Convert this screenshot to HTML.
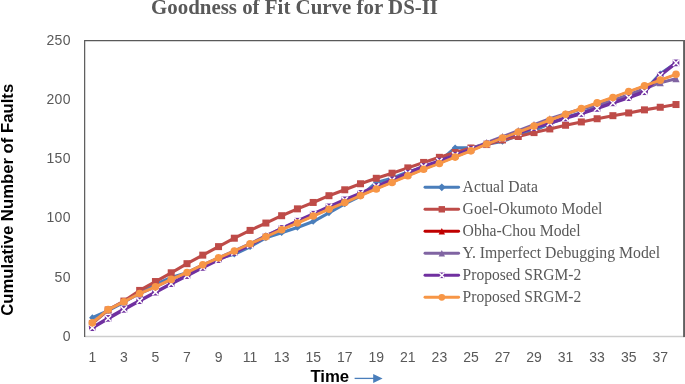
<!DOCTYPE html>
<html><head><meta charset="utf-8"><title>Goodness of Fit Curve for DS-II</title>
<style>
html,body{margin:0;padding:0;background:#fff}
body{width:685px;height:384px;overflow:hidden}
svg{display:block}
.tk{font-family:"Liberation Sans",sans-serif;font-size:14px;fill:#595959}
.at{font-family:"Liberation Sans",sans-serif;font-weight:bold;fill:#000}
.lg{font-family:"Liberation Serif",serif;font-size:15.7px;fill:#595959}
</style></head><body>
<svg width="685" height="384" viewBox="0 0 685 384">
<rect width="685" height="384" fill="#fff"/>
<text x="151.0" y="14.1" font-family="'Liberation Serif',serif" font-weight="bold" font-size="20.75" fill="#595959" textLength="287" lengthAdjust="spacingAndGlyphs">Goodness of Fit Curve for DS-II</text>
<path d="M84.65 336.6H683.8" stroke="#cdcdcd" stroke-width="1.5" fill="none"/>
<path d="M84.65 337.1V40.6H683.8" stroke="#595959" stroke-width="1.2" fill="none"/>
<rect x="683.1" y="40.0" width="2" height="297.1" fill="#606060"/>
<text x="70.9" y="340.70" letter-spacing="0.35" text-anchor="end" class="tk">0</text>
<text x="70.9" y="281.50" letter-spacing="0.35" text-anchor="end" class="tk">50</text>
<text x="70.9" y="222.30" letter-spacing="0.35" text-anchor="end" class="tk">100</text>
<text x="70.9" y="163.10" letter-spacing="0.35" text-anchor="end" class="tk">150</text>
<text x="70.9" y="103.90" letter-spacing="0.35" text-anchor="end" class="tk">200</text>
<text x="70.9" y="44.70" letter-spacing="0.35" text-anchor="end" class="tk">250</text>
<text x="92.35" y="361.7" text-anchor="middle" class="tk">1</text>
<text x="123.90" y="361.7" text-anchor="middle" class="tk">3</text>
<text x="155.45" y="361.7" text-anchor="middle" class="tk">5</text>
<text x="187.00" y="361.7" text-anchor="middle" class="tk">7</text>
<text x="218.54" y="361.7" text-anchor="middle" class="tk">9</text>
<text x="250.09" y="361.7" text-anchor="middle" class="tk">11</text>
<text x="281.64" y="361.7" text-anchor="middle" class="tk">13</text>
<text x="313.19" y="361.7" text-anchor="middle" class="tk">15</text>
<text x="344.74" y="361.7" text-anchor="middle" class="tk">17</text>
<text x="376.29" y="361.7" text-anchor="middle" class="tk">19</text>
<text x="407.84" y="361.7" text-anchor="middle" class="tk">21</text>
<text x="439.39" y="361.7" text-anchor="middle" class="tk">23</text>
<text x="470.93" y="361.7" text-anchor="middle" class="tk">25</text>
<text x="502.48" y="361.7" text-anchor="middle" class="tk">27</text>
<text x="534.03" y="361.7" text-anchor="middle" class="tk">29</text>
<text x="565.58" y="361.7" text-anchor="middle" class="tk">31</text>
<text x="597.13" y="361.7" text-anchor="middle" class="tk">33</text>
<text x="628.68" y="361.7" text-anchor="middle" class="tk">35</text>
<text x="660.23" y="361.7" text-anchor="middle" class="tk">37</text>
<text transform="translate(12.9 315.8) rotate(-90)" class="at" font-size="15.6" textLength="232" lengthAdjust="spacingAndGlyphs">Cumulative Number of Faults</text>
<text x="310.4" y="382.0" class="at" font-size="16" textLength="38.8" lengthAdjust="spacingAndGlyphs">Time</text>
<path d="M354.6 378.4H375" stroke="#4a7ebb" stroke-width="1.3" fill="none"/><path d="M373.2 373.9L382.6 378.4L373.2 382.9Z" fill="#4a7ebb"/>
<polyline points="92.35,317.66 108.12,310.55 123.90,302.26 139.67,292.79 155.45,284.50 171.22,277.40 187.00,272.66 202.77,265.56 218.54,258.46 234.32,254.31 250.09,246.73 265.87,237.85 281.64,232.76 297.42,227.44 313.19,221.52 328.96,212.87 344.74,203.99 360.51,196.06 376.29,182.44 392.06,178.30 407.84,172.02 423.61,167.29 439.39,161.37 455.16,147.75 470.93,147.75 486.71,144.20 502.48,141.48 518.26,135.32 534.03,130.58 549.81,123.48 565.58,117.56 581.35,112.82 597.13,107.38 612.90,101.69 628.68,96.48 644.45,90.56 660.23,73.75 676.00,63.10" fill="none" stroke="#4a7ebb" stroke-width="3.1" stroke-linejoin="round" stroke-linecap="round"/>
<path d="M92.35 314.36L95.65 317.66L92.35 320.96L89.05 317.66Z" fill="#4a7ebb"/>
<path d="M108.12 307.25L111.42 310.55L108.12 313.85L104.82 310.55Z" fill="#4a7ebb"/>
<path d="M123.90 298.96L127.20 302.26L123.90 305.56L120.60 302.26Z" fill="#4a7ebb"/>
<path d="M139.67 289.49L142.97 292.79L139.67 296.09L136.37 292.79Z" fill="#4a7ebb"/>
<path d="M155.45 281.20L158.75 284.50L155.45 287.80L152.15 284.50Z" fill="#4a7ebb"/>
<path d="M171.22 274.10L174.52 277.40L171.22 280.70L167.92 277.40Z" fill="#4a7ebb"/>
<path d="M187.00 269.36L190.30 272.66L187.00 275.96L183.70 272.66Z" fill="#4a7ebb"/>
<path d="M202.77 262.26L206.07 265.56L202.77 268.86L199.47 265.56Z" fill="#4a7ebb"/>
<path d="M218.54 255.16L221.84 258.46L218.54 261.76L215.24 258.46Z" fill="#4a7ebb"/>
<path d="M234.32 251.01L237.62 254.31L234.32 257.61L231.02 254.31Z" fill="#4a7ebb"/>
<path d="M250.09 243.43L253.39 246.73L250.09 250.03L246.79 246.73Z" fill="#4a7ebb"/>
<path d="M265.87 234.55L269.17 237.85L265.87 241.15L262.57 237.85Z" fill="#4a7ebb"/>
<path d="M281.64 229.46L284.94 232.76L281.64 236.06L278.34 232.76Z" fill="#4a7ebb"/>
<path d="M297.42 224.14L300.72 227.44L297.42 230.74L294.12 227.44Z" fill="#4a7ebb"/>
<path d="M313.19 218.22L316.49 221.52L313.19 224.82L309.89 221.52Z" fill="#4a7ebb"/>
<path d="M328.96 209.57L332.26 212.87L328.96 216.17L325.66 212.87Z" fill="#4a7ebb"/>
<path d="M344.74 200.69L348.04 203.99L344.74 207.29L341.44 203.99Z" fill="#4a7ebb"/>
<path d="M360.51 192.76L363.81 196.06L360.51 199.36L357.21 196.06Z" fill="#4a7ebb"/>
<path d="M376.29 179.14L379.59 182.44L376.29 185.74L372.99 182.44Z" fill="#4a7ebb"/>
<path d="M392.06 175.00L395.36 178.30L392.06 181.60L388.76 178.30Z" fill="#4a7ebb"/>
<path d="M407.84 168.72L411.14 172.02L407.84 175.32L404.54 172.02Z" fill="#4a7ebb"/>
<path d="M423.61 163.99L426.91 167.29L423.61 170.59L420.31 167.29Z" fill="#4a7ebb"/>
<path d="M439.39 158.07L442.69 161.37L439.39 164.67L436.09 161.37Z" fill="#4a7ebb"/>
<path d="M455.16 144.45L458.46 147.75L455.16 151.05L451.86 147.75Z" fill="#4a7ebb"/>
<path d="M470.93 144.45L474.23 147.75L470.93 151.05L467.63 147.75Z" fill="#4a7ebb"/>
<path d="M486.71 140.90L490.01 144.20L486.71 147.50L483.41 144.20Z" fill="#4a7ebb"/>
<path d="M502.48 138.18L505.78 141.48L502.48 144.78L499.18 141.48Z" fill="#4a7ebb"/>
<path d="M518.26 132.02L521.56 135.32L518.26 138.62L514.96 135.32Z" fill="#4a7ebb"/>
<path d="M534.03 127.28L537.33 130.58L534.03 133.88L530.73 130.58Z" fill="#4a7ebb"/>
<path d="M549.81 120.18L553.11 123.48L549.81 126.78L546.51 123.48Z" fill="#4a7ebb"/>
<path d="M565.58 114.26L568.88 117.56L565.58 120.86L562.28 117.56Z" fill="#4a7ebb"/>
<path d="M581.35 109.52L584.65 112.82L581.35 116.12L578.05 112.82Z" fill="#4a7ebb"/>
<path d="M597.13 104.08L600.43 107.38L597.13 110.68L593.83 107.38Z" fill="#4a7ebb"/>
<path d="M612.90 98.39L616.20 101.69L612.90 104.99L609.60 101.69Z" fill="#4a7ebb"/>
<path d="M628.68 93.18L631.98 96.48L628.68 99.78L625.38 96.48Z" fill="#4a7ebb"/>
<path d="M644.45 87.26L647.75 90.56L644.45 93.86L641.15 90.56Z" fill="#4a7ebb"/>
<path d="M660.23 70.45L663.53 73.75L660.23 77.05L656.93 73.75Z" fill="#4a7ebb"/>
<path d="M676.00 59.80L679.30 63.10L676.00 66.40L672.70 63.10Z" fill="#4a7ebb"/>
<polyline points="92.35,323.58 108.12,309.96 123.90,301.08 139.67,290.42 155.45,281.54 171.22,272.78 187.00,263.67 202.77,255.14 218.54,246.62 234.32,238.21 250.09,230.40 265.87,223.05 281.64,215.71 297.42,208.85 313.19,202.45 328.96,195.70 344.74,189.78 360.51,183.75 376.29,178.30 392.06,173.21 407.84,167.88 423.61,162.43 439.39,157.34 455.16,152.49 470.93,147.99 486.71,144.56 502.48,139.94 518.26,136.50 534.03,132.60 549.81,128.93 565.58,125.26 581.35,121.94 597.13,118.74 612.90,115.67 628.68,112.94 644.45,109.86 660.23,107.26 676.00,104.54" fill="none" stroke="#be4b48" stroke-width="3.1" stroke-linejoin="round" stroke-linecap="round"/>
<rect x="88.85" y="320.08" width="7.0" height="7.0" fill="#be4b48"/>
<rect x="104.62" y="306.46" width="7.0" height="7.0" fill="#be4b48"/>
<rect x="120.40" y="297.58" width="7.0" height="7.0" fill="#be4b48"/>
<rect x="136.17" y="286.92" width="7.0" height="7.0" fill="#be4b48"/>
<rect x="151.95" y="278.04" width="7.0" height="7.0" fill="#be4b48"/>
<rect x="167.72" y="269.28" width="7.0" height="7.0" fill="#be4b48"/>
<rect x="183.50" y="260.17" width="7.0" height="7.0" fill="#be4b48"/>
<rect x="199.27" y="251.64" width="7.0" height="7.0" fill="#be4b48"/>
<rect x="215.04" y="243.12" width="7.0" height="7.0" fill="#be4b48"/>
<rect x="230.82" y="234.71" width="7.0" height="7.0" fill="#be4b48"/>
<rect x="246.59" y="226.90" width="7.0" height="7.0" fill="#be4b48"/>
<rect x="262.37" y="219.55" width="7.0" height="7.0" fill="#be4b48"/>
<rect x="278.14" y="212.21" width="7.0" height="7.0" fill="#be4b48"/>
<rect x="293.92" y="205.35" width="7.0" height="7.0" fill="#be4b48"/>
<rect x="309.69" y="198.95" width="7.0" height="7.0" fill="#be4b48"/>
<rect x="325.46" y="192.20" width="7.0" height="7.0" fill="#be4b48"/>
<rect x="341.24" y="186.28" width="7.0" height="7.0" fill="#be4b48"/>
<rect x="357.01" y="180.25" width="7.0" height="7.0" fill="#be4b48"/>
<rect x="372.79" y="174.80" width="7.0" height="7.0" fill="#be4b48"/>
<rect x="388.56" y="169.71" width="7.0" height="7.0" fill="#be4b48"/>
<rect x="404.34" y="164.38" width="7.0" height="7.0" fill="#be4b48"/>
<rect x="420.11" y="158.93" width="7.0" height="7.0" fill="#be4b48"/>
<rect x="435.89" y="153.84" width="7.0" height="7.0" fill="#be4b48"/>
<rect x="451.66" y="148.99" width="7.0" height="7.0" fill="#be4b48"/>
<rect x="467.43" y="144.49" width="7.0" height="7.0" fill="#be4b48"/>
<rect x="483.21" y="141.06" width="7.0" height="7.0" fill="#be4b48"/>
<rect x="498.98" y="136.44" width="7.0" height="7.0" fill="#be4b48"/>
<rect x="514.76" y="133.00" width="7.0" height="7.0" fill="#be4b48"/>
<rect x="530.53" y="129.10" width="7.0" height="7.0" fill="#be4b48"/>
<rect x="546.31" y="125.43" width="7.0" height="7.0" fill="#be4b48"/>
<rect x="562.08" y="121.76" width="7.0" height="7.0" fill="#be4b48"/>
<rect x="577.85" y="118.44" width="7.0" height="7.0" fill="#be4b48"/>
<rect x="593.63" y="115.24" width="7.0" height="7.0" fill="#be4b48"/>
<rect x="609.40" y="112.17" width="7.0" height="7.0" fill="#be4b48"/>
<rect x="625.18" y="109.44" width="7.0" height="7.0" fill="#be4b48"/>
<rect x="640.95" y="106.36" width="7.0" height="7.0" fill="#be4b48"/>
<rect x="656.73" y="103.76" width="7.0" height="7.0" fill="#be4b48"/>
<rect x="672.50" y="101.04" width="7.0" height="7.0" fill="#be4b48"/>
<polyline points="92.35,322.87 108.12,309.60 123.90,301.79 139.67,293.50 155.45,286.87 171.22,279.41 187.00,272.55 202.77,264.85 218.54,257.86 234.32,251.00 250.09,243.77 265.87,236.79 281.64,229.68 297.42,223.05 313.19,216.07 328.96,209.20 344.74,202.57 360.51,195.59 376.29,188.96 392.06,182.44 407.84,175.81 423.61,169.30 439.39,163.50 455.16,157.11 470.93,150.83 486.71,144.08 502.48,138.04 518.26,132.12 534.03,126.08 549.81,120.16 565.58,114.36 581.35,108.44 597.13,102.88 612.90,97.43 628.68,91.51 644.45,85.83 660.23,80.15 676.00,74.34" fill="none" stroke="#c00000" stroke-width="1.8" stroke-linejoin="round" stroke-linecap="round"/>
<path d="M92.35 320.27L94.95 325.47L89.75 325.47Z" fill="#c00000"/>
<path d="M108.12 307.00L110.72 312.20L105.52 312.20Z" fill="#c00000"/>
<path d="M123.90 299.19L126.50 304.39L121.30 304.39Z" fill="#c00000"/>
<path d="M139.67 290.90L142.27 296.10L137.07 296.10Z" fill="#c00000"/>
<path d="M155.45 284.27L158.05 289.47L152.85 289.47Z" fill="#c00000"/>
<path d="M171.22 276.81L173.82 282.01L168.62 282.01Z" fill="#c00000"/>
<path d="M187.00 269.95L189.60 275.15L184.40 275.15Z" fill="#c00000"/>
<path d="M202.77 262.25L205.37 267.45L200.17 267.45Z" fill="#c00000"/>
<path d="M218.54 255.26L221.14 260.46L215.94 260.46Z" fill="#c00000"/>
<path d="M234.32 248.40L236.92 253.60L231.72 253.60Z" fill="#c00000"/>
<path d="M250.09 241.17L252.69 246.37L247.49 246.37Z" fill="#c00000"/>
<path d="M265.87 234.19L268.47 239.39L263.27 239.39Z" fill="#c00000"/>
<path d="M281.64 227.08L284.24 232.28L279.04 232.28Z" fill="#c00000"/>
<path d="M297.42 220.45L300.02 225.65L294.82 225.65Z" fill="#c00000"/>
<path d="M313.19 213.47L315.79 218.67L310.59 218.67Z" fill="#c00000"/>
<path d="M328.96 206.60L331.56 211.80L326.36 211.80Z" fill="#c00000"/>
<path d="M344.74 199.97L347.34 205.17L342.14 205.17Z" fill="#c00000"/>
<path d="M360.51 192.99L363.11 198.19L357.91 198.19Z" fill="#c00000"/>
<path d="M376.29 186.36L378.89 191.56L373.69 191.56Z" fill="#c00000"/>
<path d="M392.06 179.84L394.66 185.04L389.46 185.04Z" fill="#c00000"/>
<path d="M407.84 173.21L410.44 178.41L405.24 178.41Z" fill="#c00000"/>
<path d="M423.61 166.70L426.21 171.90L421.01 171.90Z" fill="#c00000"/>
<path d="M439.39 160.90L441.99 166.10L436.79 166.10Z" fill="#c00000"/>
<path d="M455.16 154.51L457.76 159.71L452.56 159.71Z" fill="#c00000"/>
<path d="M470.93 148.23L473.53 153.43L468.33 153.43Z" fill="#c00000"/>
<path d="M486.71 141.48L489.31 146.68L484.11 146.68Z" fill="#c00000"/>
<path d="M502.48 135.44L505.08 140.64L499.88 140.64Z" fill="#c00000"/>
<path d="M518.26 129.52L520.86 134.72L515.66 134.72Z" fill="#c00000"/>
<path d="M534.03 123.48L536.63 128.68L531.43 128.68Z" fill="#c00000"/>
<path d="M549.81 117.56L552.41 122.76L547.21 122.76Z" fill="#c00000"/>
<path d="M565.58 111.76L568.18 116.96L562.98 116.96Z" fill="#c00000"/>
<path d="M581.35 105.84L583.95 111.04L578.75 111.04Z" fill="#c00000"/>
<path d="M597.13 100.28L599.73 105.48L594.53 105.48Z" fill="#c00000"/>
<path d="M612.90 94.83L615.50 100.03L610.30 100.03Z" fill="#c00000"/>
<path d="M628.68 88.91L631.28 94.11L626.08 94.11Z" fill="#c00000"/>
<path d="M644.45 83.23L647.05 88.43L641.85 88.43Z" fill="#c00000"/>
<path d="M660.23 77.55L662.83 82.75L657.63 82.75Z" fill="#c00000"/>
<path d="M676.00 71.74L678.60 76.94L673.40 76.94Z" fill="#c00000"/>
<polyline points="92.35,322.87 108.12,309.60 123.90,301.79 139.67,293.50 155.45,286.87 171.22,279.41 187.00,272.55 202.77,264.85 218.54,257.86 234.32,251.00 250.09,243.77 265.87,235.60 281.64,228.50 297.42,221.87 313.19,214.88 328.96,208.02 344.74,201.39 360.51,194.40 376.29,187.77 392.06,181.02 407.84,174.39 423.61,167.88 439.39,161.49 455.16,155.09 470.93,148.82 486.71,142.66 502.48,136.62 518.26,130.70 534.03,124.66 549.81,118.74 565.58,113.77 581.35,109.04 597.13,105.25 612.90,100.51 628.68,94.83 644.45,88.79 660.23,82.63 676.00,78.72" fill="none" stroke="#8064a2" stroke-width="3.1" stroke-linejoin="round" stroke-linecap="round"/>
<path d="M92.35 319.27L95.95 326.47L88.75 326.47Z" fill="#8064a2"/>
<path d="M108.12 306.00L111.72 313.20L104.52 313.20Z" fill="#8064a2"/>
<path d="M123.90 298.19L127.50 305.39L120.30 305.39Z" fill="#8064a2"/>
<path d="M139.67 289.90L143.27 297.10L136.07 297.10Z" fill="#8064a2"/>
<path d="M155.45 283.27L159.05 290.47L151.85 290.47Z" fill="#8064a2"/>
<path d="M171.22 275.81L174.82 283.01L167.62 283.01Z" fill="#8064a2"/>
<path d="M187.00 268.95L190.60 276.15L183.40 276.15Z" fill="#8064a2"/>
<path d="M202.77 261.25L206.37 268.45L199.17 268.45Z" fill="#8064a2"/>
<path d="M218.54 254.26L222.14 261.46L214.94 261.46Z" fill="#8064a2"/>
<path d="M234.32 247.40L237.92 254.60L230.72 254.60Z" fill="#8064a2"/>
<path d="M250.09 240.17L253.69 247.37L246.49 247.37Z" fill="#8064a2"/>
<path d="M265.87 232.00L269.47 239.20L262.27 239.20Z" fill="#8064a2"/>
<path d="M281.64 224.90L285.24 232.10L278.04 232.10Z" fill="#8064a2"/>
<path d="M297.42 218.27L301.02 225.47L293.82 225.47Z" fill="#8064a2"/>
<path d="M313.19 211.28L316.79 218.48L309.59 218.48Z" fill="#8064a2"/>
<path d="M328.96 204.42L332.56 211.62L325.36 211.62Z" fill="#8064a2"/>
<path d="M344.74 197.79L348.34 204.99L341.14 204.99Z" fill="#8064a2"/>
<path d="M360.51 190.80L364.11 198.00L356.91 198.00Z" fill="#8064a2"/>
<path d="M376.29 184.17L379.89 191.37L372.69 191.37Z" fill="#8064a2"/>
<path d="M392.06 177.42L395.66 184.62L388.46 184.62Z" fill="#8064a2"/>
<path d="M407.84 170.79L411.44 177.99L404.24 177.99Z" fill="#8064a2"/>
<path d="M423.61 164.28L427.21 171.48L420.01 171.48Z" fill="#8064a2"/>
<path d="M439.39 157.89L442.99 165.09L435.79 165.09Z" fill="#8064a2"/>
<path d="M455.16 151.49L458.76 158.69L451.56 158.69Z" fill="#8064a2"/>
<path d="M470.93 145.22L474.53 152.42L467.33 152.42Z" fill="#8064a2"/>
<path d="M486.71 139.06L490.31 146.26L483.11 146.26Z" fill="#8064a2"/>
<path d="M502.48 133.02L506.08 140.22L498.88 140.22Z" fill="#8064a2"/>
<path d="M518.26 127.10L521.86 134.30L514.66 134.30Z" fill="#8064a2"/>
<path d="M534.03 121.06L537.63 128.26L530.43 128.26Z" fill="#8064a2"/>
<path d="M549.81 115.14L553.41 122.34L546.21 122.34Z" fill="#8064a2"/>
<path d="M565.58 110.17L569.18 117.37L561.98 117.37Z" fill="#8064a2"/>
<path d="M581.35 105.44L584.95 112.64L577.75 112.64Z" fill="#8064a2"/>
<path d="M597.13 101.65L600.73 108.85L593.53 108.85Z" fill="#8064a2"/>
<path d="M612.90 96.91L616.50 104.11L609.30 104.11Z" fill="#8064a2"/>
<path d="M628.68 91.23L632.28 98.43L625.08 98.43Z" fill="#8064a2"/>
<path d="M644.45 85.19L648.05 92.39L640.85 92.39Z" fill="#8064a2"/>
<path d="M660.23 79.03L663.83 86.23L656.63 86.23Z" fill="#8064a2"/>
<path d="M676.00 75.12L679.60 82.32L672.40 82.32Z" fill="#8064a2"/>
<polyline points="92.35,327.72 108.12,318.37 123.90,309.37 139.67,300.72 155.45,292.20 171.22,283.68 187.00,275.62 202.77,267.45 218.54,259.64 234.32,252.42 250.09,244.84 265.87,236.55 281.64,228.50 297.42,221.16 313.19,214.17 328.96,206.83 344.74,199.85 360.51,193.34 376.29,186.47 392.06,180.19 407.84,173.21 423.61,166.46 439.39,161.13 455.16,155.21 470.93,149.29 486.71,143.84 502.48,138.28 518.26,132.72 534.03,127.62 549.81,123.12 565.58,118.03 581.35,113.53 597.13,108.44 612.90,102.88 628.68,97.67 644.45,91.75 660.23,75.29 676.00,62.86" fill="none" stroke="#7030a0" stroke-width="3.5" stroke-linejoin="round" stroke-linecap="round"/>
<rect x="89.05" y="324.42" width="6.6" height="6.6" fill="#7030a0"/><path d="M89.25 324.62L95.45 330.82M95.45 324.62L89.25 330.82" stroke="#fff" stroke-width="1.5" fill="none"/>
<rect x="104.82" y="315.07" width="6.6" height="6.6" fill="#7030a0"/><path d="M105.02 315.27L111.22 321.47M111.22 315.27L105.02 321.47" stroke="#fff" stroke-width="1.5" fill="none"/>
<rect x="120.60" y="306.07" width="6.6" height="6.6" fill="#7030a0"/><path d="M120.80 306.27L127.00 312.47M127.00 306.27L120.80 312.47" stroke="#fff" stroke-width="1.5" fill="none"/>
<rect x="136.37" y="297.42" width="6.6" height="6.6" fill="#7030a0"/><path d="M136.57 297.62L142.77 303.82M142.77 297.62L136.57 303.82" stroke="#fff" stroke-width="1.5" fill="none"/>
<rect x="152.15" y="288.90" width="6.6" height="6.6" fill="#7030a0"/><path d="M152.35 289.10L158.55 295.30M158.55 289.10L152.35 295.30" stroke="#fff" stroke-width="1.5" fill="none"/>
<rect x="167.92" y="280.38" width="6.6" height="6.6" fill="#7030a0"/><path d="M168.12 280.58L174.32 286.78M174.32 280.58L168.12 286.78" stroke="#fff" stroke-width="1.5" fill="none"/>
<rect x="183.70" y="272.32" width="6.6" height="6.6" fill="#7030a0"/><path d="M183.90 272.52L190.10 278.72M190.10 272.52L183.90 278.72" stroke="#fff" stroke-width="1.5" fill="none"/>
<rect x="199.47" y="264.15" width="6.6" height="6.6" fill="#7030a0"/><path d="M199.67 264.35L205.87 270.55M205.87 264.35L199.67 270.55" stroke="#fff" stroke-width="1.5" fill="none"/>
<rect x="215.24" y="256.34" width="6.6" height="6.6" fill="#7030a0"/><path d="M215.44 256.54L221.64 262.74M221.64 256.54L215.44 262.74" stroke="#fff" stroke-width="1.5" fill="none"/>
<rect x="231.02" y="249.12" width="6.6" height="6.6" fill="#7030a0"/><path d="M231.22 249.32L237.42 255.52M237.42 249.32L231.22 255.52" stroke="#fff" stroke-width="1.5" fill="none"/>
<rect x="246.79" y="241.54" width="6.6" height="6.6" fill="#7030a0"/><path d="M246.99 241.74L253.19 247.94M253.19 241.74L246.99 247.94" stroke="#fff" stroke-width="1.5" fill="none"/>
<rect x="262.57" y="233.25" width="6.6" height="6.6" fill="#7030a0"/><path d="M262.77 233.45L268.97 239.65M268.97 233.45L262.77 239.65" stroke="#fff" stroke-width="1.5" fill="none"/>
<rect x="278.34" y="225.20" width="6.6" height="6.6" fill="#7030a0"/><path d="M278.54 225.40L284.74 231.60M284.74 225.40L278.54 231.60" stroke="#fff" stroke-width="1.5" fill="none"/>
<rect x="294.12" y="217.86" width="6.6" height="6.6" fill="#7030a0"/><path d="M294.32 218.06L300.52 224.26M300.52 218.06L294.32 224.26" stroke="#fff" stroke-width="1.5" fill="none"/>
<rect x="309.89" y="210.87" width="6.6" height="6.6" fill="#7030a0"/><path d="M310.09 211.07L316.29 217.27M316.29 211.07L310.09 217.27" stroke="#fff" stroke-width="1.5" fill="none"/>
<rect x="325.66" y="203.53" width="6.6" height="6.6" fill="#7030a0"/><path d="M325.86 203.73L332.06 209.93M332.06 203.73L325.86 209.93" stroke="#fff" stroke-width="1.5" fill="none"/>
<rect x="341.44" y="196.55" width="6.6" height="6.6" fill="#7030a0"/><path d="M341.64 196.75L347.84 202.95M347.84 196.75L341.64 202.95" stroke="#fff" stroke-width="1.5" fill="none"/>
<rect x="357.21" y="190.04" width="6.6" height="6.6" fill="#7030a0"/><path d="M357.41 190.24L363.61 196.44M363.61 190.24L357.41 196.44" stroke="#fff" stroke-width="1.5" fill="none"/>
<rect x="372.99" y="183.17" width="6.6" height="6.6" fill="#7030a0"/><path d="M373.19 183.37L379.39 189.57M379.39 183.37L373.19 189.57" stroke="#fff" stroke-width="1.5" fill="none"/>
<rect x="388.76" y="176.89" width="6.6" height="6.6" fill="#7030a0"/><path d="M388.96 177.09L395.16 183.29M395.16 177.09L388.96 183.29" stroke="#fff" stroke-width="1.5" fill="none"/>
<rect x="404.54" y="169.91" width="6.6" height="6.6" fill="#7030a0"/><path d="M404.74 170.11L410.94 176.31M410.94 170.11L404.74 176.31" stroke="#fff" stroke-width="1.5" fill="none"/>
<rect x="420.31" y="163.16" width="6.6" height="6.6" fill="#7030a0"/><path d="M420.51 163.36L426.71 169.56M426.71 163.36L420.51 169.56" stroke="#fff" stroke-width="1.5" fill="none"/>
<rect x="436.09" y="157.83" width="6.6" height="6.6" fill="#7030a0"/><path d="M436.29 158.03L442.49 164.23M442.49 158.03L436.29 164.23" stroke="#fff" stroke-width="1.5" fill="none"/>
<rect x="451.86" y="151.91" width="6.6" height="6.6" fill="#7030a0"/><path d="M452.06 152.11L458.26 158.31M458.26 152.11L452.06 158.31" stroke="#fff" stroke-width="1.5" fill="none"/>
<rect x="467.63" y="145.99" width="6.6" height="6.6" fill="#7030a0"/><path d="M467.83 146.19L474.03 152.39M474.03 146.19L467.83 152.39" stroke="#fff" stroke-width="1.5" fill="none"/>
<rect x="483.41" y="140.54" width="6.6" height="6.6" fill="#7030a0"/><path d="M483.61 140.74L489.81 146.94M489.81 140.74L483.61 146.94" stroke="#fff" stroke-width="1.5" fill="none"/>
<rect x="499.18" y="134.98" width="6.6" height="6.6" fill="#7030a0"/><path d="M499.38 135.18L505.58 141.38M505.58 135.18L499.38 141.38" stroke="#fff" stroke-width="1.5" fill="none"/>
<rect x="514.96" y="129.42" width="6.6" height="6.6" fill="#7030a0"/><path d="M515.16 129.62L521.36 135.82M521.36 129.62L515.16 135.82" stroke="#fff" stroke-width="1.5" fill="none"/>
<rect x="530.73" y="124.32" width="6.6" height="6.6" fill="#7030a0"/><path d="M530.93 124.52L537.13 130.72M537.13 124.52L530.93 130.72" stroke="#fff" stroke-width="1.5" fill="none"/>
<rect x="546.51" y="119.82" width="6.6" height="6.6" fill="#7030a0"/><path d="M546.71 120.02L552.91 126.22M552.91 120.02L546.71 126.22" stroke="#fff" stroke-width="1.5" fill="none"/>
<rect x="562.28" y="114.73" width="6.6" height="6.6" fill="#7030a0"/><path d="M562.48 114.93L568.68 121.13M568.68 114.93L562.48 121.13" stroke="#fff" stroke-width="1.5" fill="none"/>
<rect x="578.05" y="110.23" width="6.6" height="6.6" fill="#7030a0"/><path d="M578.25 110.43L584.45 116.63M584.45 110.43L578.25 116.63" stroke="#fff" stroke-width="1.5" fill="none"/>
<rect x="593.83" y="105.14" width="6.6" height="6.6" fill="#7030a0"/><path d="M594.03 105.34L600.23 111.54M600.23 105.34L594.03 111.54" stroke="#fff" stroke-width="1.5" fill="none"/>
<rect x="609.60" y="99.58" width="6.6" height="6.6" fill="#7030a0"/><path d="M609.80 99.78L616.00 105.98M616.00 99.78L609.80 105.98" stroke="#fff" stroke-width="1.5" fill="none"/>
<rect x="625.38" y="94.37" width="6.6" height="6.6" fill="#7030a0"/><path d="M625.58 94.57L631.78 100.77M631.78 94.57L625.58 100.77" stroke="#fff" stroke-width="1.5" fill="none"/>
<rect x="641.15" y="88.45" width="6.6" height="6.6" fill="#7030a0"/><path d="M641.35 88.65L647.55 94.85M647.55 88.65L641.35 94.85" stroke="#fff" stroke-width="1.5" fill="none"/>
<rect x="656.93" y="71.99" width="6.6" height="6.6" fill="#7030a0"/><path d="M657.13 72.19L663.33 78.39M663.33 72.19L657.13 78.39" stroke="#fff" stroke-width="1.5" fill="none"/>
<rect x="672.70" y="59.56" width="6.6" height="6.6" fill="#7030a0"/><path d="M672.90 59.76L679.10 65.96M679.10 59.76L672.90 65.96" stroke="#fff" stroke-width="1.5" fill="none"/>
<polyline points="92.35,322.87 108.12,309.60 123.90,301.79 139.67,293.50 155.45,286.87 171.22,279.41 187.00,272.55 202.77,264.85 218.54,257.86 234.32,251.00 250.09,243.77 265.87,236.79 281.64,229.68 297.42,223.05 313.19,216.07 328.96,209.20 344.74,202.57 360.51,195.59 376.29,188.96 392.06,182.44 407.84,175.81 423.61,169.30 439.39,163.50 455.16,157.11 470.93,150.83 486.71,144.08 502.48,138.04 518.26,132.12 534.03,126.08 549.81,120.16 565.58,114.36 581.35,108.44 597.13,102.88 612.90,97.43 628.68,91.51 644.45,85.83 660.23,80.15 676.00,74.34" fill="none" stroke="#f79646" stroke-width="2.9" stroke-linejoin="round" stroke-linecap="round"/>
<circle cx="92.35" cy="322.87" r="3.8" fill="#f79646"/>
<circle cx="108.12" cy="309.60" r="3.8" fill="#f79646"/>
<circle cx="123.90" cy="301.79" r="3.8" fill="#f79646"/>
<circle cx="139.67" cy="293.50" r="3.8" fill="#f79646"/>
<circle cx="155.45" cy="286.87" r="3.8" fill="#f79646"/>
<circle cx="171.22" cy="279.41" r="3.8" fill="#f79646"/>
<circle cx="187.00" cy="272.55" r="3.8" fill="#f79646"/>
<circle cx="202.77" cy="264.85" r="3.8" fill="#f79646"/>
<circle cx="218.54" cy="257.86" r="3.8" fill="#f79646"/>
<circle cx="234.32" cy="251.00" r="3.8" fill="#f79646"/>
<circle cx="250.09" cy="243.77" r="3.8" fill="#f79646"/>
<circle cx="265.87" cy="236.79" r="3.8" fill="#f79646"/>
<circle cx="281.64" cy="229.68" r="3.8" fill="#f79646"/>
<circle cx="297.42" cy="223.05" r="3.8" fill="#f79646"/>
<circle cx="313.19" cy="216.07" r="3.8" fill="#f79646"/>
<circle cx="328.96" cy="209.20" r="3.8" fill="#f79646"/>
<circle cx="344.74" cy="202.57" r="3.8" fill="#f79646"/>
<circle cx="360.51" cy="195.59" r="3.8" fill="#f79646"/>
<circle cx="376.29" cy="188.96" r="3.8" fill="#f79646"/>
<circle cx="392.06" cy="182.44" r="3.8" fill="#f79646"/>
<circle cx="407.84" cy="175.81" r="3.8" fill="#f79646"/>
<circle cx="423.61" cy="169.30" r="3.8" fill="#f79646"/>
<circle cx="439.39" cy="163.50" r="3.8" fill="#f79646"/>
<circle cx="455.16" cy="157.11" r="3.8" fill="#f79646"/>
<circle cx="470.93" cy="150.83" r="3.8" fill="#f79646"/>
<circle cx="486.71" cy="144.08" r="3.8" fill="#f79646"/>
<circle cx="502.48" cy="138.04" r="3.8" fill="#f79646"/>
<circle cx="518.26" cy="132.12" r="3.8" fill="#f79646"/>
<circle cx="534.03" cy="126.08" r="3.8" fill="#f79646"/>
<circle cx="549.81" cy="120.16" r="3.8" fill="#f79646"/>
<circle cx="565.58" cy="114.36" r="3.8" fill="#f79646"/>
<circle cx="581.35" cy="108.44" r="3.8" fill="#f79646"/>
<circle cx="597.13" cy="102.88" r="3.8" fill="#f79646"/>
<circle cx="612.90" cy="97.43" r="3.8" fill="#f79646"/>
<circle cx="628.68" cy="91.51" r="3.8" fill="#f79646"/>
<circle cx="644.45" cy="85.83" r="3.8" fill="#f79646"/>
<circle cx="660.23" cy="80.15" r="3.8" fill="#f79646"/>
<circle cx="676.00" cy="74.34" r="3.8" fill="#f79646"/>
<path d="M425 187.30H458.6" stroke="#4a7ebb" stroke-width="2.9" stroke-linecap="round" fill="none"/>
<path d="M441.80 183.40L445.70 187.30L441.80 191.20L437.90 187.30Z" fill="#4a7ebb"/>
<text x="462.6" y="192.30" class="lg">Actual Data</text>
<path d="M425 209.30H458.6" stroke="#be4b48" stroke-width="2.9" stroke-linecap="round" fill="none"/>
<rect x="438.60" y="206.10" width="6.4" height="6.4" fill="#be4b48"/>
<text x="462.6" y="214.30" class="lg">Goel-Okumoto Model</text>
<path d="M425 231.30H458.6" stroke="#c00000" stroke-width="2.9" stroke-linecap="round" fill="none"/>
<path d="M441.80 228.10L445.00 234.50L438.60 234.50Z" fill="#c00000"/>
<text x="462.6" y="236.30" class="lg">Obha-Chou Model</text>
<path d="M425 253.30H458.6" stroke="#8064a2" stroke-width="2.9" stroke-linecap="round" fill="none"/>
<path d="M441.80 250.10L445.00 256.50L438.60 256.50Z" fill="#8064a2"/>
<text x="462.6" y="258.30" class="lg" textLength="197.6" lengthAdjust="spacingAndGlyphs">Y. Imperfect Debugging Model</text>
<path d="M425 275.30H458.6" stroke="#7030a0" stroke-width="2.9" stroke-linecap="round" fill="none"/>
<rect x="439.00" y="272.50" width="5.6" height="5.6" fill="#7030a0"/><path d="M439.20 272.70L444.40 277.90M444.40 272.70L439.20 277.90" stroke="#fff" stroke-width="1.5" fill="none"/>
<text x="462.6" y="280.30" class="lg" textLength="118.6" lengthAdjust="spacingAndGlyphs">Proposed SRGM-2</text>
<path d="M425 297.30H458.6" stroke="#f79646" stroke-width="2.9" stroke-linecap="round" fill="none"/>
<circle cx="441.80" cy="297.30" r="3.4" fill="#f79646"/>
<text x="462.6" y="302.30" class="lg" textLength="118.6" lengthAdjust="spacingAndGlyphs">Proposed SRGM-2</text>
</svg>
</body></html>
